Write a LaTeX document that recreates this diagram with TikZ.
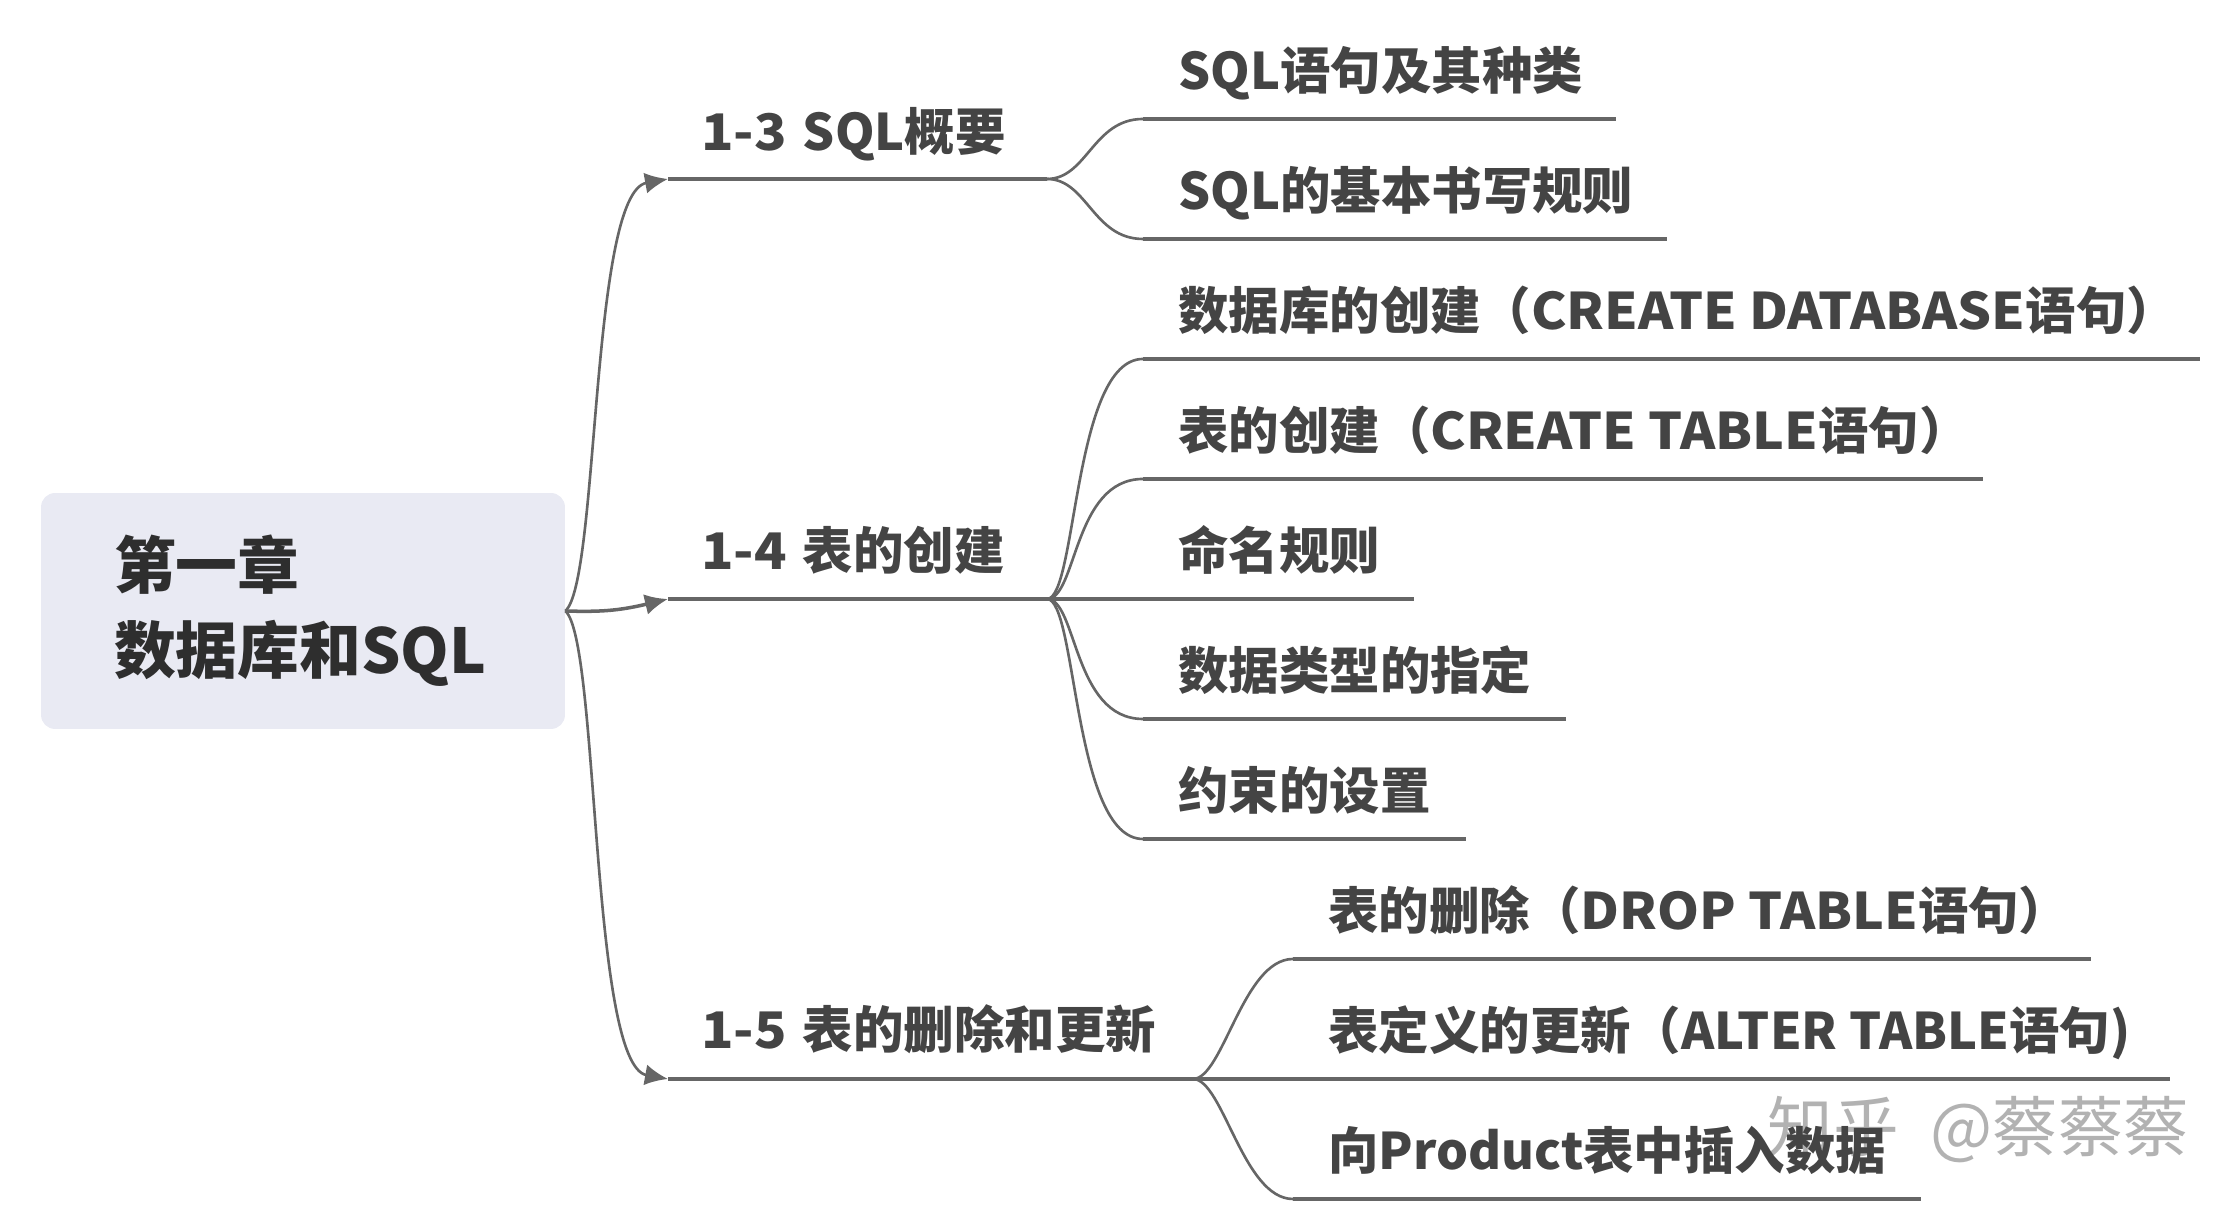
\documentclass[tikz,border=0pt]{standalone}
\usepackage{fontspec}
\setmainfont{Noto Sans CJK SC}
\usetikzlibrary{arrows.meta}
\definecolor{rootfill}{HTML}{E9EAF3}
\definecolor{linegray}{HTML}{666666}
\definecolor{textgray}{HTML}{444444}
\newcommand{\wide}[1]{{\addfontfeatures{FakeStretch=1.06}#1}}
\tikzset{
  rootbox/.style={fill=rootfill,rounded corners=0.28cm,text=black!82,font=\fontsize{35.2}{48.4}\selectfont\bfseries,align=left,text width=7.56cm,inner xsep=1.46cm,inner ysep=0pt,minimum height=4.72cm},
  topic/.style={anchor=base west,inner sep=0pt,text=textgray,font=\fontsize{28.7}{34}\selectfont\bfseries},
  branch/.style={line width=1.5pt,linegray},
  stem/.style={line width=2pt,linegray},
  tip/.style={-{Latex[length=0.46cm,width=0.42cm]}},
  wmark/.style={anchor=base west,inner sep=0pt,text=black!30,font=\fontsize{37.4}{44}\selectfont}
}
\begin{document}
\begin{tikzpicture}[x=0.02cm,y=0.02cm]
       \useasboundingbox (0,0) rectangle (2240,1222);

       % first level
       \coordinate (A1) at (668,1043);
       \coordinate (A2) at (668,623);
       \coordinate (A3) at (668,143);
       \coordinate (F1) at (1047,1043);
       \coordinate (F2) at (1047,623);
       \coordinate (F3) at (1193,143);

       % starts of the underlines
       \coordinate (B1) at (1143,1103);
       \coordinate (B2) at (1143,983);
       \coordinate (C1) at (1143,863);
       \coordinate (C2) at (1143,743);
       \coordinate (C3) at (1143,623);
       \coordinate (C4) at (1143,503);
       \coordinate (C5) at (1143,383);
       \coordinate (D1) at (1293,263);
       \coordinate (D2) at (1293,143);
       \coordinate (D3) at (1293,23);

       % ends of the underlines
       \coordinate (BE1) at (1616,1103);
       \coordinate (BE2) at (1667,983);
       \coordinate (CE1) at (2200,863);
       \coordinate (CE2) at (1983,743);
       \coordinate (CE3) at (1414,623);
       \coordinate (CE4) at (1566,503);
       \coordinate (CE5) at (1466,383);
       \coordinate (DE1) at (2091,263);
       \coordinate (DE2) at (2170,143);
       \coordinate (DE3) at (1921,23);

       \node[rootbox] (root) at (303,611) {第一章\\数据库和SQL};

       \node[wmark] (zhihu) at (1767,70) {知乎};
       \node[wmark] (author) at (1930,70) {@蔡蔡蔡};

       \node[topic] (t13) at (701,1071) {\wide{1-3}\hspace{0.32cm}SQL概要};
       \node[topic] (t14) at (701,652) {\wide{1-4}\hspace{0.32cm}表的创建};
       \node[topic] (t15) at (701,173) {\wide{1-5}\hspace{0.32cm}表的删除和更新};

       \node[topic] (b1) at (1178,1132) {SQL语句及其种类};
       \node[topic] (b2) at (1178,1012) {SQL的基本书写规则};
       \node[topic] (c1) at (1178,892) {数据库的创建（\wide{CREATE DATABASE}语句）};
       \node[topic] (c2) at (1178,772) {表的创建（\wide{CREATE TABLE}语句）};
       \node[topic] (c3) at (1178,652) {命名规则};
       \node[topic] (c4) at (1178,532) {数据类型的指定};
       \node[topic] (c5) at (1178,412) {约束的设置};
       \node[topic] (d1) at (1328,292) {表的删除（\wide{DROP TABLE}语句）};
       \node[topic] (d2) at (1328,172) {表定义的更新（ALTER TABLE语句)};
       \node[topic] (d3) at (1328,52) {向Product表中插入数据};

       \draw[branch,tip] (root.east) .. controls +(34,29) and +(-78,-14) .. (A1);
       \draw[stem,tip] (root.east) .. controls +(34,-1) and +(-50,-12) .. (A2);
       \draw[branch,tip] (root.east) .. controls +(34,-29) and +(-78,14) .. (A3);
       \draw[stem] (A1) -- (F1);
       \draw[stem] (A2) -- (F2);
       \draw[stem] (A3) -- (F3);

       \draw[branch] (F1) .. controls +(40,0) and +(-50,0) .. (B1);
       \draw[branch] (F1) .. controls +(40,0) and +(-50,0) .. (B2);
       \draw[stem] (B1) -- (BE1);
       \draw[stem] (B2) -- (BE2);

       \draw[branch] (F2) .. controls +(30,0) and +(-70,0) .. (C1);
       \draw[branch] (F2) .. controls +(30,0) and +(-70,0) .. (C2);
       \draw[stem] (F2) -- (C3) -- (CE3);
       \draw[branch] (F2) .. controls +(30,0) and +(-70,0) .. (C4);
       \draw[branch] (F2) .. controls +(30,0) and +(-70,0) .. (C5);
       \draw[stem] (C1) -- (CE1);
       \draw[stem] (C2) -- (CE2);
       \draw[stem] (C4) -- (CE4);
       \draw[stem] (C5) -- (CE5);

       \draw[branch] (F3) .. controls +(30,0) and +(-50,0) .. (D1);
       \draw[stem] (F3) -- (D2) -- (DE2);
       \draw[branch] (F3) .. controls +(30,0) and +(-50,0) .. (D3);
       \draw[stem] (D1) -- (DE1);
       \draw[stem] (D3) -- (DE3);
\end{tikzpicture}
\end{document}
